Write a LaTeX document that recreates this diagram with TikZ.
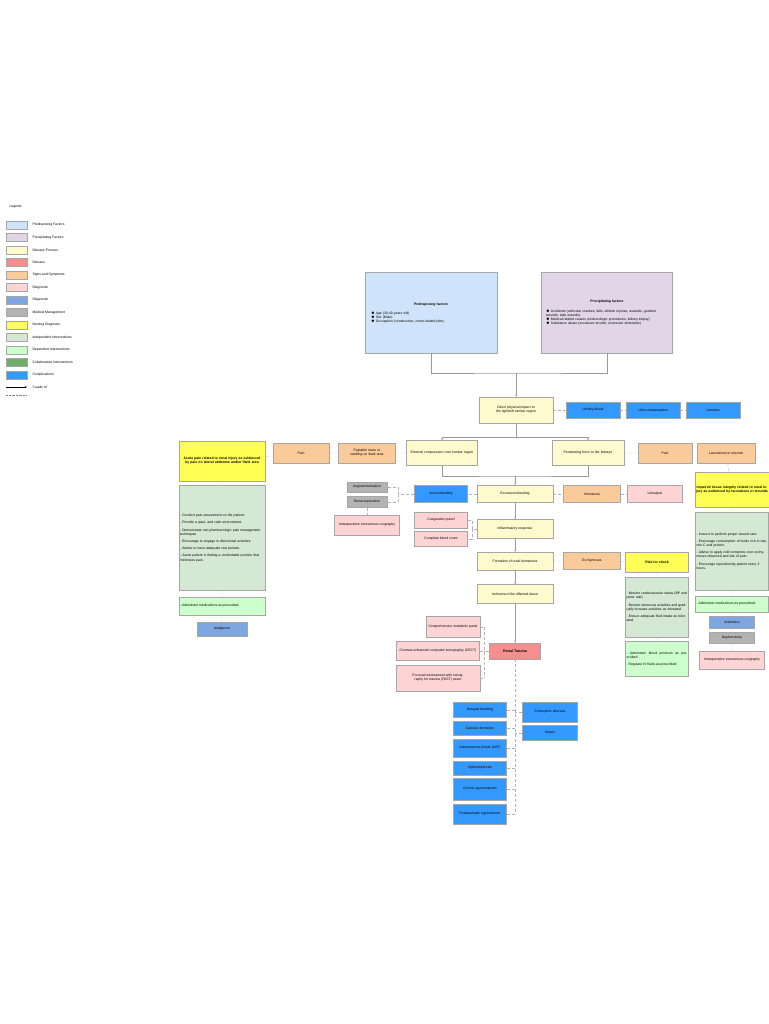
\documentclass[tikz,border=0pt]{standalone}
\usepackage{fontspec}
\setmainfont{Liberation Sans}
\usetikzlibrary{arrows.meta}
\definecolor{predc}{HTML}{CFE3FA}
\definecolor{precc}{HTML}{E1D5E7}
\definecolor{procc}{HTML}{FFFACD}
\definecolor{disc}{HTML}{F58F8F}
\definecolor{signc}{HTML}{FACB9A}
\definecolor{labc}{HTML}{FDD3D3}
\definecolor{labbc}{HTML}{7EA6E0}
\definecolor{medc}{HTML}{B3B3B3}
\definecolor{nursec}{HTML}{FFFF55}
\definecolor{indc}{HTML}{D5E8D4}
\definecolor{depc}{HTML}{CCFFCC}
\definecolor{colc}{HTML}{6FAE6A}
\definecolor{compc}{HTML}{3399FF}
\tikzset{
  box/.style={draw=gray!70, line width=0.3pt, inner sep=1pt, align=center,
    font=\fontsize{3.4}{4.2}\selectfont},
  predbox/.style={box, fill=predc}, precbox/.style={box, fill=precc},
  procbox/.style={box, fill=procc}, disbox/.style={box, fill=disc, font=\fontsize{3.6}{4.3}\selectfont\bfseries},
  signbox/.style={box, fill=signc}, labbox/.style={box, fill=labc},
  labbbox/.style={box, fill=labbc}, medbox/.style={box, fill=medc},
  nursebox/.style={box, fill=nursec, font=\fontsize{3.4}{4.2}\selectfont\bfseries},
  indbox/.style={box, fill=indc, align=left}, depbox/.style={box, fill=depc, align=justify},
  compbox/.style={box, fill=compc},
  flow/.style={draw=gray!80, line width=0.3pt, -{Stealth[length=2pt,width=1.6pt]}},
  link/.style={draw=gray!60, line width=0.3pt, densely dashed},
  legtext/.style={anchor=west, font=\fontsize{3.4}{4.2}\selectfont}
}
\begin{document}
\begin{tikzpicture}[x=1pt,y=-1pt]
\useasboundingbox (0,0) rectangle (768,1024);
\fill[white] (0,0) rectangle (768,1024);
% legend
\node[legtext] (legend) at (6,207) {Legend:};
\foreach \c/\t [count=\i] in {predc/Predisposing Factors, precc/Precipitating Factors,
  procc/Disease Process, disc/Disease, signc/Signs and Symptoms,
  labc/Diagnostic/Laboratory Tests, labbc/Diagnostic/Laboratory Tests,
  medc/Medical Management, nursec/Nursing Diagnosis, indc/Independent Interventions,
  depc/Dependent Interventions, colc/Collaborative Interventions, compc/Complications}
  {
  \draw[draw=gray!70, fill=\c, line width=0.3pt] (6,{212.5+12.5*\i-4}) rectangle (27,{212.5+12.5*\i+4});
  \node[legtext] (leg\i) at (29,{212.5+12.5*\i}) {\t};
  }
\draw[-{Stealth[length=2pt,width=1.6pt]}, line width=0.3pt] (6,387) -- (27,387);
\node[legtext] (legarrow) at (29,387) {``Leads to''};
\draw[gray, densely dotted, line width=0.4pt] (6,395) -- (27,395);

% top factors
\node[predbox, minimum width=132, minimum height=81, text width=120, align=left] (pred) at (431,313)
  {\centering\textbf{Predisposing factors}\par\vspace{5pt}
   \raggedright$\bullet$ Age (30-40 years old)\\ $\bullet$ Sex (Male)\\ $\bullet$ Occupation (construction, crime-related jobs)};
\node[precbox, minimum width=131, minimum height=81, text width=122, align=left] (prec) at (607,313)
  {\centering\textbf{Precipitating factors}\par\vspace{5pt}
   \raggedright$\bullet$ Accidents (vehicular crashes, falls, athletic injuries, assaults, gunshot wounds, stab wounds)\\
   $\bullet$ Medical-related causes (endourologic procedures, kidney biopsy)\\
   $\bullet$ Substance abuse (excessive alcohol, excessive stimulants)};
\node[procbox, minimum width=74, minimum height=26, text width=70] (direct) at (516,410) {Direct physical impact to the right/left lumbar region};
\node[compbox, minimum width=54, minimum height=16] (fistula) at (593,410) {Urinary fistula};
\node[compbox, minimum width=54, minimum height=16] (extrav) at (653,410) {Urine extravasation};
\node[compbox, minimum width=54, minimum height=16] (urinoma) at (713,410) {Urinoma};
\draw[draw=gray!80, line width=0.3pt] (pred.south) |- (516,373) -| (prec.south);
\draw[flow] (516,373) -- (direct.north);
\draw[link] (direct) -- (fistula) (fistula) -- (extrav) (extrav) -- (urinoma);

% second row
\node[procbox, minimum width=71, minimum height=25, text width=68] (extcomp) at (442,453) {External compression over lumbar region};
\node[procbox, minimum width=71, minimum height=25, text width=70] (penet) at (588,453) {Penetrating force to the kidneys};
\draw[flow] (direct.south) -- (516,437) -| (extcomp.north);
\draw[flow] (516,437) -| (penet.north);
\node[signbox, minimum width=57, minimum height=20, text width=54] (palp) at (367,453) {Palpable mass or swelling on flank area};
\node[signbox, minimum width=56, minimum height=20] (painl) at (301,453) {Pain};
\node[nursebox, minimum width=86, minimum height=40, text width=84] (acute) at (222,461) {Acute pain related to renal injury as evidenced by pain on lateral abdomen and/or flank area};
\node[indbox, minimum width=86, minimum height=105, text width=84] (indl) at (222,538)
  {- Conduct pain assessment on the patient.\\[3pt] - Provide a quiet, and calm environment.\\[3pt]
   - Demonstrate non-pharmacologic pain management techniques\\[3pt] - Encourage to engage in diversional activities.\\[3pt]
   - Advise to have adequate rest periods.\\[3pt] - Assist patient in finding a comfortable position that minimizes pain.};
\node[depbox, minimum width=86, minimum height=18, text width=84] (depl) at (222,606) {- Administer medications as prescribed.};
\node[labbbox, minimum width=50, minimum height=14] (analg) at (222,629) {Analgesics};
\draw[link] (extcomp) -- (palp) (palp) -- (painl) (painl) -- (acute) (acute) -- (indl) (indl) -- (depl) (depl) -- (analg);
\node[signbox, minimum width=54, minimum height=20] (painr) at (665,453) {Pain};
\node[signbox, minimum width=58, minimum height=20] (lacer) at (726,453) {Lacerations or wounds};
\node[nursebox, minimum width=73, minimum height=35, text width=72] (impair) at (732,490) {Impaired tissue integrity related to renal injury as evidenced by lacerations or wounds};
\node[indbox, minimum width=73, minimum height=78, text width=71] (indr) at (732,551)
  {- Instruct to perform proper wound care.\\[3pt] - Encourage consumption of foods rich in vitamin C and protein.\\[3pt]
   - Advise to apply cold compress over ecchymoses observed and site of pain.\\[3pt] - Encourage repositioning patient every 2 hours.};
\node[depbox, minimum width=73, minimum height=16, text width=71] (depr) at (732,604) {- Administer medications as prescribed.};
\node[labbbox, minimum width=45, minimum height=12] (antib) at (732,622) {Antibiotics};
\node[medbox, minimum width=45, minimum height=11] (nephr) at (732,638) {Nephrectomy};
\node[labbox, minimum width=65, minimum height=18, text width=62] (intrar) at (732,660) {Intraoperative intravenous urography};
\draw[link] (penet) -- (painr) (painr) -- (lacer) (lacer) -- (impair) (impair) -- (indr) (indr) -- (depr)
  (depr) -- (antib) (antib) -- (nephr) (nephr) -- (intrar);

% disease process
\node[procbox, minimum width=76, minimum height=17] (excess) at (515,494) {Excessive bleeding};
\draw[draw=gray!80, line width=0.3pt] (extcomp.south) |- (515,476) -| (penet.south);
\draw[flow] (515,476) -- (excess.north);
\node[signbox, minimum width=57, minimum height=17] (hemat) at (592,494) {Hematuria};
\node[labbox, minimum width=55, minimum height=17] (urinal) at (655,494) {Urinalysis};
\node[compbox, minimum width=53, minimum height=17] (active) at (441,494) {Active bleeding};
\node[medbox, minimum width=40, minimum height=10] (angio) at (367,487) {Angioembolization};
\node[medbox, minimum width=40, minimum height=11] (explor) at (367,502) {Renal exploration};
\node[labbox, minimum width=65, minimum height=20, text width=62] (intral) at (367,525) {Intraoperative intravenous urography};
\draw[link] (excess) -- (hemat) (hemat) -- (urinal) (excess) -- (active);
\draw[link] (active.west) -- (398,494) |- (angio.east) (398,494) |- (explor.east) (explor) -- (intral);
\node[procbox, minimum width=76, minimum height=19] (inflam) at (515,529) {Inflammatory response};
\node[labbox, minimum width=53, minimum height=16] (coag) at (441,520) {Coagulation panel};
\node[labbox, minimum width=53, minimum height=15] (cbc) at (441,539) {Complete blood count};
\draw[link] (inflam.west) -- (472,529) |- (coag.east) (472,529) |- (cbc.east);
\node[procbox, minimum width=76, minimum height=18] (hemat2) at (515,561) {Formation of renal hematoma};
\node[signbox, minimum width=57, minimum height=17] (ecchy) at (592,561) {Ecchymoses};
\node[nursebox, minimum width=63, minimum height=20] (shock) at (657,562) {Risk for shock};
\node[indbox, minimum width=63, minimum height=60, text width=61] (indm) at (657,607)
  {- Monitor cardiovascular status (BP and pulse rate)\\[3pt] - Restrict strenuous activities and gradually increase activities as tolerated.\\[3pt]
   - Ensure adequate fluid intake as tolerated.};
\node[depbox, minimum width=63, minimum height=35, text width=61] (depm) at (657,659) {- Administer blood products as prescribed.\\[3pt] - Regulate IV fluids as prescribed};
\draw[link] (hemat2) -- (ecchy) (ecchy) -- (shock) (shock) -- (indm) (indm) -- (depm);
\node[procbox, minimum width=76, minimum height=19] (ischem) at (515,594) {Ischemia of the affected tissue};
\node[disbox, minimum width=51, minimum height=16] (trauma) at (515,651) {Renal Trauma};
\draw[flow] (excess) -- (inflam);
\draw[flow] (inflam) -- (hemat2);
\draw[flow] (hemat2) -- (ischem);
\draw[flow] (ischem) -- (trauma);

% diagnostics
\node[labbox, minimum width=54, minimum height=21, text width=52] (cmp) at (453,627) {Comprehensive metabolic panel};
\node[labbox, minimum width=83, minimum height=19, text width=80] (cect) at (438,651) {Contrast-enhanced computed tomography (CECT)};
\node[labbox, minimum width=83, minimum height=26, text width=82] (fast) at (438,678) {Focused assessment with sonography for trauma (FAST) exam};
\draw[link] (trauma.west) -- (484,651) (484,627) -- (484,678) (cmp.east) -- (484,627) (cect.east) -- (484,651) (fast.east) -- (484,678);

% complications
\node[compbox, minimum width=53, minimum height=15] (delay) at (480,710) {Delayed bleeding};
\node[compbox, minimum width=53, minimum height=14] (calc) at (480,728) {Calculus formation};
\node[compbox, minimum width=53, minimum height=18, text width=50] (avf) at (480,748) {Arteriovenous fistula (AVF)};
\node[compbox, minimum width=53, minimum height=14] (hydro) at (480,768) {Hydronephrosis};
\node[compbox, minimum width=53, minimum height=22] (pyelo) at (480,789) {Chronic pyelonephritis};
\node[compbox, minimum width=53, minimum height=20] (htn) at (480,814) {Posttraumatic hypertension};
\node[compbox, minimum width=55, minimum height=20] (perin) at (550,712) {Perinephric abscess};
\node[compbox, minimum width=55, minimum height=15] (sepsis) at (550,733) {Sepsis};
\draw[link] (trauma.south) -- (515,814);
\foreach \n in {delay,calc,avf,hydro,pyelo,htn} \draw[link] (\n.east) -- (\n.east -| trauma);
\foreach \n in {perin,sepsis} \draw[link] (\n.west) -- (\n.west -| trauma);
\end{tikzpicture}
\end{document}
